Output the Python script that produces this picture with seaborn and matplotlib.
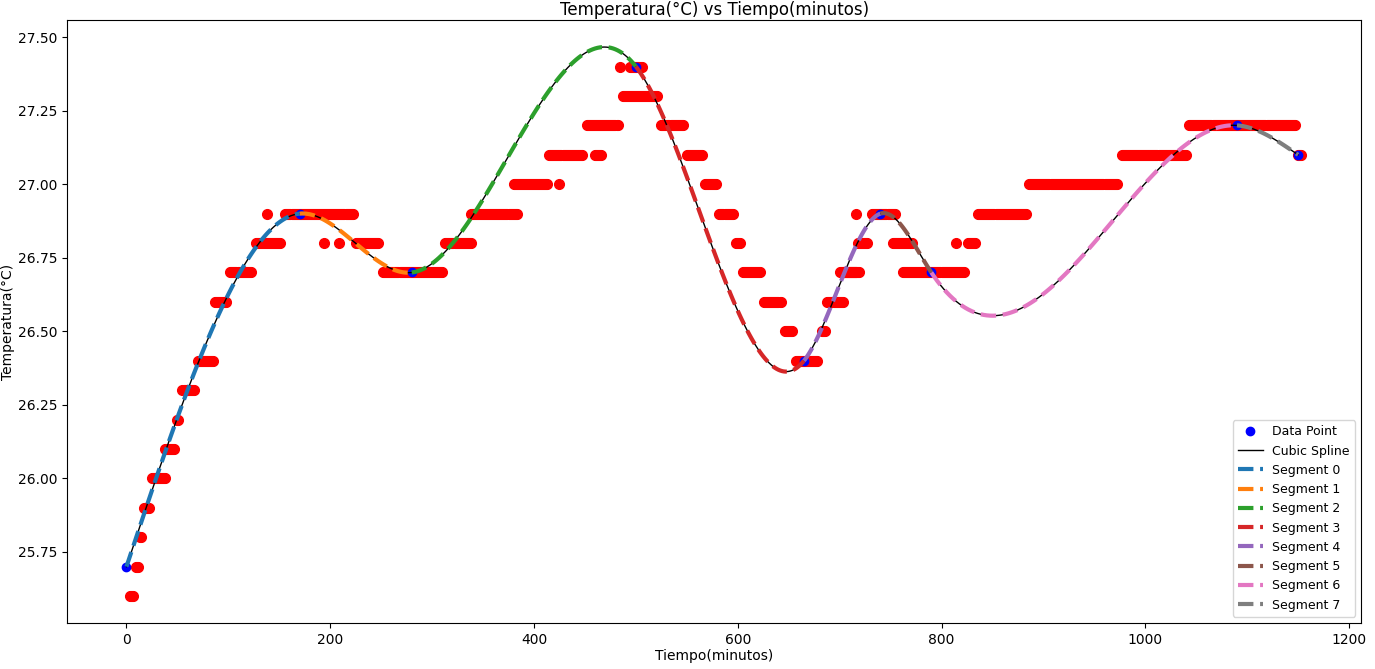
import numpy as np
import pandas as pd
import matplotlib
matplotlib.use("Agg")
import matplotlib.pyplot as plt
import seaborn as sns

# spline knots (blue points)
knot_t = [0, 170, 280, 500, 665, 740, 790, 1090, 1150]
knot_temp = [25.7, 26.9, 26.7, 27.4, 26.4, 26.9, 26.7, 27.2, 27.1]

# red readings, as runs of constant temperature (minute start, minute end, value)
run_start = [3, 9, 13, 17, 25, 38, 50, 55, 70, 87, 102, 127, 138, 156, 194, 209,
             225, 252, 313, 338, 380, 425, 415, 460, 452, 484, 487, 494, 525,
             550, 568, 582, 598, 605, 626, 646, 657, 683, 688, 700, 703, 716,
             718, 732, 752, 762, 814, 826, 836, 886, 977, 1043, 1150]
run_end = [6, 11, 14, 22, 38, 47, 51, 66, 85, 98, 122, 151, 138, 222, 194, 209,
           247, 310, 338, 383, 413, 425, 447, 466, 482, 484, 521, 506, 546,
           565, 579, 595, 602, 622, 642, 653, 678, 686, 703, 719, 716, 716,
           727, 754, 771, 822, 814, 833, 883, 972, 1040, 1147, 1153]
run_temp = [25.6, 25.7, 25.8, 25.9, 26.0, 26.1, 26.2, 26.3, 26.4, 26.6, 26.7,
            26.8, 26.9, 26.9, 26.8, 26.8, 26.8, 26.7, 26.8, 26.9, 27.0, 27.0,
            27.1, 27.1, 27.2, 27.4, 27.3, 27.4, 27.2, 27.1, 27.0, 26.9, 26.8,
            26.7, 26.6, 26.5, 26.4, 26.5, 26.6, 26.7, 26.7, 26.9, 26.8, 26.9,
            26.8, 26.7, 26.8, 26.8, 26.9, 27.0, 27.1, 27.2, 27.1]


def natural_spline(x, y):
    x = np.asarray(x, float)
    y = np.asarray(y, float)
    n = len(x)
    h = np.diff(x)
    A = np.zeros((n, n))
    b = np.zeros(n)
    A[0, 0] = A[-1, -1] = 1
    for i in range(1, n - 1):
        A[i, i - 1] = h[i - 1]
        A[i, i] = 2 * (h[i - 1] + h[i])
        A[i, i + 1] = h[i]
        b[i] = 3 * ((y[i + 1] - y[i]) / h[i] - (y[i] - y[i - 1]) / h[i - 1])
    c = np.linalg.solve(A, b)
    segs = []
    for i in range(n - 1):
        bi = (y[i + 1] - y[i]) / h[i] - h[i] * (2 * c[i] + c[i + 1]) / 3
        di = (c[i + 1] - c[i]) / (3 * h[i])
        segs.append((y[i], bi, c[i], di))
    return segs


rows = []
for s, e, v in zip(run_start, run_end, run_temp):
    for t in range(s, e + 1):
        rows.append((t, v))
readings = pd.DataFrame(rows, columns=["t", "temp"])

segs = natural_spline(knot_t, knot_temp)
colors = sns.color_palette("tab10")

fig, ax = plt.subplots(figsize=(13.75, 6.69), dpi=100)
fig.subplots_adjust(left=0.049, right=0.99, top=0.97, bottom=0.069)

ax.plot(readings["t"], readings["temp"], "o", color="red", ms=7)
ax.plot(knot_t, knot_temp, "o", color="blue", ms=6, label="Data Point")

full_t, full_y, seg_data = [], [], []
for i, (a, b, c, d) in enumerate(segs):
    tt = np.linspace(knot_t[i], knot_t[i + 1], 100)
    dx = tt - knot_t[i]
    yy = a + b * dx + c * dx ** 2 + d * dx ** 3
    full_t.extend(tt)
    full_y.extend(yy)
    seg_data.append((tt, yy))

sns.lineplot(x=full_t, y=full_y, color="black", lw=1, sort=False,
             label="Cubic Spline", ax=ax)
for i, (tt, yy) in enumerate(seg_data):
    ax.plot(tt, yy, "--", color=colors[i], lw=3, label=f"Segment {i}")

ax.set_xlim(-58, 1212)
ax.set_ylim(25.509, 27.558)
ax.set_yticks(np.arange(25.75, 27.51, 0.25))
ax.yaxis.set_major_formatter(matplotlib.ticker.FormatStrFormatter("%.2f"))
ax.set_xlabel("Tiempo(minutos)", labelpad=2)
ax.set_ylabel("Temperatura(°C)", labelpad=2)
ax.set_title("Temperatura(°C) vs Tiempo(minutos)", pad=4)
ax.legend(loc="lower right", fontsize=9)
fig.savefig("out.png")
